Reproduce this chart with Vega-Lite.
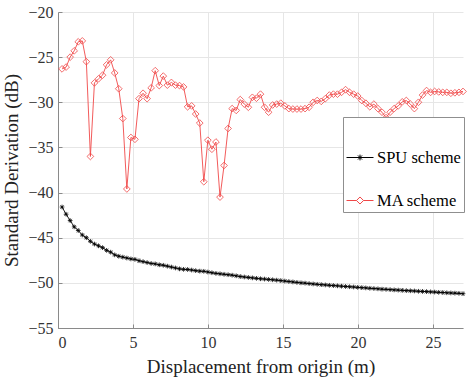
{
  "$schema": "https://vega.github.io/schema/vega-lite/v6.json",
  "width": 405,
  "height": 316,
  "autosize": {"type": "none"},
  "padding": {"left": 58, "top": 12, "right": 11, "bottom": 51},
  "background": "white",
  "config": {
    "view": {"stroke": null},
    "font": "Liberation Serif",
    "axis": {
      "labelFont": "Liberation Serif",
      "titleFont": "Liberation Serif",
      "labelFontSize": 16,
      "titleFontSize": 19,
      "titleFontWeight": "normal",
      "labelColor": "#333333",
      "titleColor": "#222222",
      "domainColor": "#8a8a8a",
      "tickColor": "#8a8a8a",
      "gridColor": "#e6e6e6",
      "tickSize": -4
    }
  },
  "data": {
    "values": [
      {"x":0.27,"SPU scheme":-41.6,"MA scheme":-26.3},
      {"x":0.54,"SPU scheme":-42.4,"MA scheme":-26.1},
      {"x":0.81,"SPU scheme":-43.1,"MA scheme":-25.0},
      {"x":1.08,"SPU scheme":-43.8,"MA scheme":-24.3},
      {"x":1.35,"SPU scheme":-44.2,"MA scheme":-23.3},
      {"x":1.62,"SPU scheme":-44.7,"MA scheme":-23.2},
      {"x":1.89,"SPU scheme":-45.0,"MA scheme":-25.5},
      {"x":2.16,"SPU scheme":-45.4,"MA scheme":-36.0},
      {"x":2.43,"SPU scheme":-45.7,"MA scheme":-27.85},
      {"x":2.7,"SPU scheme":-45.9,"MA scheme":-27.4},
      {"x":2.97,"SPU scheme":-46.1,"MA scheme":-27.0},
      {"x":3.24,"SPU scheme":-46.4,"MA scheme":-25.85},
      {"x":3.51,"SPU scheme":-46.6,"MA scheme":-25.3},
      {"x":3.78,"SPU scheme":-46.9,"MA scheme":-26.75},
      {"x":4.05,"SPU scheme":-47.05,"MA scheme":-28.5},
      {"x":4.32,"SPU scheme":-47.15,"MA scheme":-31.8},
      {"x":4.59,"SPU scheme":-47.25,"MA scheme":-39.6},
      {"x":4.86,"SPU scheme":-47.35,"MA scheme":-33.9},
      {"x":5.13,"SPU scheme":-47.4,"MA scheme":-34.1},
      {"x":5.4,"SPU scheme":-47.55,"MA scheme":-29.6},
      {"x":5.67,"SPU scheme":-47.65,"MA scheme":-29.0},
      {"x":5.94,"SPU scheme":-47.75,"MA scheme":-29.6},
      {"x":6.21,"SPU scheme":-47.85,"MA scheme":-28.4},
      {"x":6.48,"SPU scheme":-47.9,"MA scheme":-26.5},
      {"x":6.75,"SPU scheme":-48.0,"MA scheme":-28.15},
      {"x":7.02,"SPU scheme":-48.05,"MA scheme":-27.1},
      {"x":7.29,"SPU scheme":-48.15,"MA scheme":-28.1},
      {"x":7.56,"SPU scheme":-48.25,"MA scheme":-27.8},
      {"x":7.83,"SPU scheme":-48.35,"MA scheme":-28.1},
      {"x":8.1,"SPU scheme":-48.45,"MA scheme":-28.15},
      {"x":8.37,"SPU scheme":-48.5,"MA scheme":-28.3},
      {"x":8.64,"SPU scheme":-48.52,"MA scheme":-30.5},
      {"x":8.91,"SPU scheme":-48.58,"MA scheme":-30.4},
      {"x":9.18,"SPU scheme":-48.65,"MA scheme":-31.3},
      {"x":9.45,"SPU scheme":-48.7,"MA scheme":-32.3},
      {"x":9.72,"SPU scheme":-48.72,"MA scheme":-38.8},
      {"x":9.99,"SPU scheme":-48.8,"MA scheme":-34.2},
      {"x":10.26,"SPU scheme":-48.88,"MA scheme":-35.2},
      {"x":10.53,"SPU scheme":-48.95,"MA scheme":-34.4},
      {"x":10.8,"SPU scheme":-49.0,"MA scheme":-40.5},
      {"x":11.07,"SPU scheme":-49.05,"MA scheme":-37.0},
      {"x":11.34,"SPU scheme":-49.1,"MA scheme":-32.9},
      {"x":11.61,"SPU scheme":-49.15,"MA scheme":-30.7},
      {"x":11.88,"SPU scheme":-49.22,"MA scheme":-30.9},
      {"x":12.15,"SPU scheme":-49.3,"MA scheme":-29.7},
      {"x":12.42,"SPU scheme":-49.35,"MA scheme":-30.2},
      {"x":12.69,"SPU scheme":-49.4,"MA scheme":-30.55},
      {"x":12.96,"SPU scheme":-49.45,"MA scheme":-29.45},
      {"x":13.23,"SPU scheme":-49.5,"MA scheme":-29.55},
      {"x":13.5,"SPU scheme":-49.55,"MA scheme":-29.1},
      {"x":13.77,"SPU scheme":-49.58,"MA scheme":-30.55},
      {"x":14.04,"SPU scheme":-49.62,"MA scheme":-31.1},
      {"x":14.31,"SPU scheme":-49.66,"MA scheme":-30.3},
      {"x":14.58,"SPU scheme":-49.7,"MA scheme":-30.2},
      {"x":14.85,"SPU scheme":-49.75,"MA scheme":-30.1},
      {"x":15.12,"SPU scheme":-49.8,"MA scheme":-30.4},
      {"x":15.39,"SPU scheme":-49.85,"MA scheme":-30.7},
      {"x":15.66,"SPU scheme":-49.9,"MA scheme":-30.75},
      {"x":15.93,"SPU scheme":-49.95,"MA scheme":-30.75},
      {"x":16.2,"SPU scheme":-50.0,"MA scheme":-30.75},
      {"x":16.47,"SPU scheme":-50.03,"MA scheme":-30.7},
      {"x":16.74,"SPU scheme":-50.08,"MA scheme":-30.55},
      {"x":17.01,"SPU scheme":-50.12,"MA scheme":-30.0},
      {"x":17.28,"SPU scheme":-50.16,"MA scheme":-29.8},
      {"x":17.55,"SPU scheme":-50.2,"MA scheme":-29.9},
      {"x":17.82,"SPU scheme":-50.23,"MA scheme":-29.6},
      {"x":18.09,"SPU scheme":-50.27,"MA scheme":-29.2},
      {"x":18.36,"SPU scheme":-50.3,"MA scheme":-29.1},
      {"x":18.63,"SPU scheme":-50.33,"MA scheme":-29.1},
      {"x":18.9,"SPU scheme":-50.37,"MA scheme":-28.9},
      {"x":19.17,"SPU scheme":-50.4,"MA scheme":-28.6},
      {"x":19.44,"SPU scheme":-50.43,"MA scheme":-28.9},
      {"x":19.71,"SPU scheme":-50.46,"MA scheme":-29.1},
      {"x":19.98,"SPU scheme":-50.5,"MA scheme":-29.3},
      {"x":20.25,"SPU scheme":-50.53,"MA scheme":-29.8},
      {"x":20.52,"SPU scheme":-50.56,"MA scheme":-30.1},
      {"x":20.79,"SPU scheme":-50.6,"MA scheme":-30.5},
      {"x":21.06,"SPU scheme":-50.63,"MA scheme":-30.2},
      {"x":21.33,"SPU scheme":-50.66,"MA scheme":-30.7},
      {"x":21.6,"SPU scheme":-50.7,"MA scheme":-31.1},
      {"x":21.87,"SPU scheme":-50.72,"MA scheme":-31.7},
      {"x":22.14,"SPU scheme":-50.75,"MA scheme":-31.1},
      {"x":22.41,"SPU scheme":-50.78,"MA scheme":-30.7},
      {"x":22.68,"SPU scheme":-50.8,"MA scheme":-30.4},
      {"x":22.95,"SPU scheme":-50.83,"MA scheme":-29.95},
      {"x":23.22,"SPU scheme":-50.86,"MA scheme":-29.8},
      {"x":23.49,"SPU scheme":-50.88,"MA scheme":-30.2},
      {"x":23.76,"SPU scheme":-50.9,"MA scheme":-30.7},
      {"x":24.03,"SPU scheme":-50.93,"MA scheme":-30.0},
      {"x":24.3,"SPU scheme":-50.95,"MA scheme":-29.2},
      {"x":24.57,"SPU scheme":-50.97,"MA scheme":-28.7},
      {"x":24.84,"SPU scheme":-51.0,"MA scheme":-28.9},
      {"x":25.11,"SPU scheme":-51.02,"MA scheme":-28.8},
      {"x":25.38,"SPU scheme":-51.05,"MA scheme":-28.85},
      {"x":25.65,"SPU scheme":-51.07,"MA scheme":-28.9},
      {"x":25.92,"SPU scheme":-51.1,"MA scheme":-28.9},
      {"x":26.19,"SPU scheme":-51.12,"MA scheme":-29.0},
      {"x":26.46,"SPU scheme":-51.14,"MA scheme":-28.95},
      {"x":26.73,"SPU scheme":-51.16,"MA scheme":-28.9},
      {"x":27.0,"SPU scheme":-51.2,"MA scheme":-28.8}
    ]
  },
  "transform": [
    {"fold": ["SPU scheme", "MA scheme"], "as": ["series", "y"]}
  ],
  "encoding": {
    "x": {
      "field": "x", "type": "quantitative",
      "scale": {"domain": [0, 27], "nice": false, "zero": false},
      "axis": {"values": [0, 5, 10, 15, 20, 25], "title": "Displacement from origin (m)", "labelFont": "Liberation Serif", "titleFont": "Liberation Serif", "labelPadding": 10, "titlePadding": 7, "grid": true}
    },
    "y": {
      "field": "y", "type": "quantitative",
      "scale": {"domain": [-55, -20], "nice": false, "zero": false},
      "axis": {"values": [-55, -50, -45, -40, -35, -30, -25, -20], "title": "Standard Derivation (dB)", "labelFont": "Liberation Serif", "titleFont": "Liberation Serif", "labelPadding": 9, "titlePadding": 6, "grid": true}
    }
  },
  "layer": [
    {
      "mark": {"type": "line", "strokeWidth": 0.9},
      "encoding": {
        "color": {
          "field": "series", "type": "nominal",
          "scale": {"domain": ["SPU scheme", "MA scheme"], "range": ["#000000", "#f04848"]},
          "legend": {
            "orient": "none",
            "legendX": 285,
            "legendY": 105,
            "title": "\u00a0",
            "titleFontSize": 2,
            "titlePadding": 3,
            "padding": 3,
            "rowPadding": 2,
            "symbolSize": 4096,
            "labelOffset": -34,
            "labelFont": "Liberation Serif",
            "labelFontSize": 16.5,
            "labelColor": "#000000",
            "strokeColor": "#8f8f8f",
            "fillColor": "white",
            "encode": {
              "symbols": {
                "update": {
                  "shape": {"signal": "datum.value === 'SPU scheme' ? 'M-1,0H-0.156M-0.668,0H-0.488M-0.578,-0.09V0.09M-0.642,-0.064L-0.514,0.064M-0.642,0.064L-0.514,-0.064' : 'M-1,0H-0.688M-0.468,0H-0.156M-0.578,-0.11L-0.468,0L-0.578,0.11L-0.688,0Z'"},
                  "fill": {"value": "transparent"},
                  "strokeWidth": {"value": 1}
                }
              }
            }
          }
        }
      }
    },
    {
      "transform": [{"filter": "datum.series === 'MA scheme'"}],
      "mark": {"type": "point", "shape": "diamond", "filled": false, "color": "#f04848", "size": 45, "strokeWidth": 0.8, "opacity": 1}
    },
    {
      "transform": [{"filter": "datum.series === 'SPU scheme'"}],
      "mark": {"type": "point", "shape": "M-1,0H1M0,-1V1M-0.7,-0.7L0.7,0.7M-0.7,0.7L0.7,-0.7", "filled": false, "color": "#000000", "size": 22, "strokeWidth": 0.8, "opacity": 1}
    }
  ]
}
